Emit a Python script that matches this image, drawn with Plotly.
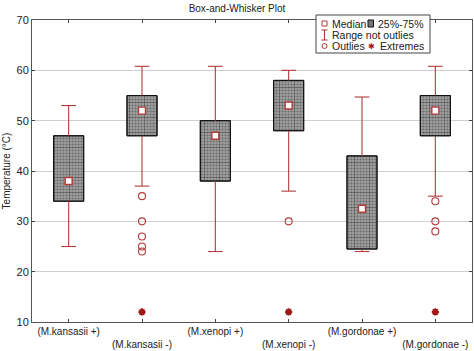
import plotly.graph_objects as go

categories = ["(M.kansasii +)", "(M.kansasii -)", "(M.xenopi +)", "(M.xenopi -)", "(M.gordonae +)", "(M.gordonae -)"]
whisker_low = [25, 37, 24, 36, 24, 35]
q1 = [34, 47, 38, 48, 24.5, 47]
median = [38, 52, 47, 53, 32.5, 52]
q3 = [47, 55, 50, 58, 43, 55]
whisker_high = [53, 60.8, 60.8, 60, 54.7, 60.8]
outliers = [[], [35, 30, 27, 25, 24], [], [30], [], [34, 30, 28]]
extremes = [[], [12], [], [12], [], [12]]

RED = "#b23b3b"
xs = list(range(len(categories)))

fig = go.Figure()

# boxes (25%-75%)
fig.add_trace(go.Bar(
    x=xs, y=[b - a for a, b in zip(q1, q3)], base=q1, width=0.41,
    marker=dict(color="#a0a0a0", line=dict(color="#111", width=1),
                pattern=dict(shape=".", fgcolor="#333", size=3, solidity=0.4)),
    showlegend=False, hoverinfo="skip"))
fig.add_trace(go.Bar(
    x=xs, y=[b - a for a, b in zip(q1, q3)], base=q1, width=0.41,
    marker=dict(color="rgba(0,0,0,0)", line=dict(color="#111", width=1),
                pattern=dict(shape="+", fgcolor="#333", bgcolor="rgba(0,0,0,0)", size=15, solidity=0.08, fillmode="overlay")),
    showlegend=False, hoverinfo="skip"))

# whiskers
wx, wy = [], []
cap = 0.1
for i in xs:
    wx += [i, i, None, i - cap, i + cap, None, i, i, None, i - cap, i + cap, None]
    wy += [q3[i], whisker_high[i], None, whisker_high[i], whisker_high[i], None,
           q1[i], whisker_low[i], None, whisker_low[i], whisker_low[i], None]
fig.add_trace(go.Scatter(x=wx, y=wy, mode="lines", line=dict(color=RED, width=1.1),
                         showlegend=False, hoverinfo="skip"))

# medians
fig.add_trace(go.Scatter(x=xs, y=median, mode="markers",
                         marker=dict(symbol="square", size=7, color="white", line=dict(color=RED, width=1.4)),
                         showlegend=False))

# outliers
ox, oy = [], []
for i, vals in enumerate(outliers):
    for v in vals:
        ox.append(i); oy.append(v)
fig.add_trace(go.Scatter(x=ox, y=oy, mode="markers",
                         marker=dict(symbol="circle-open", size=7, color=RED, line=dict(width=1.1)),
                         showlegend=False))

# extremes
ex, ey = [], []
for i, vals in enumerate(extremes):
    for v in vals:
        ex.append(i); ey.append(v)
fig.add_trace(go.Scatter(x=ex, y=ey, mode="markers",
                         marker=dict(symbol="asterisk-open", size=6, color="#a01818", line=dict(width=2, color="#a01818")),
                         showlegend=False))

ticktext = [c if i % 2 == 0 else "<br>" + c for i, c in enumerate(categories)]

fig.update_layout(
    width=474, height=351, margin=dict(l=32, r=2, t=20, b=29),
    paper_bgcolor="white", plot_bgcolor="white", barmode="overlay",
    font=dict(family="Liberation Sans, Arial", color="#222", size=10),
    title=dict(text="Box-and-Whisker Plot", x=0.5, xanchor="center", y=0.985, yanchor="top",
               font=dict(size=10, color="#222")),
)
fig.update_xaxes(range=[-0.5, 5.5], tickvals=xs, ticktext=ticktext, showgrid=False,
                 ticks="inside", ticklen=3, tickcolor="#444", mirror="ticks", showline=True,
                 linecolor="#555", linewidth=1, tickfont=dict(size=10), zeroline=False,
                 ticklabelstandoff=0, automargin=False)
fig.update_yaxes(range=[10, 70], dtick=10, showgrid=True, gridcolor="#cfcfcf", gridwidth=1,
                 ticks="inside", ticklen=3, tickcolor="#444", mirror="ticks", showline=True,
                 linecolor="#555", linewidth=1, tickfont=dict(size=11), zeroline=False,
                 automargin=False,
                 title=dict(text="Temperature (°C)", font=dict(size=10), standoff=4))

# custom legend in paper coordinates
L, T, W, H = 32, 20, 440, 302
def px(x):
    return (x - L) / W
def py(y):
    return (T + H - y) / H

shapes = [
    dict(type="rect", xref="paper", yref="paper", x0=px(316), x1=px(430), y0=py(15), y1=py(53),
         fillcolor="white", line=dict(color="#444", width=1), layer="above"),
    dict(type="rect", xref="paper", yref="paper", x0=px(322), x1=px(327), y0=py(21), y1=py(26),
         fillcolor="white", line=dict(color=RED, width=1), layer="above"),
    dict(type="rect", xref="paper", yref="paper", x0=px(368), x1=px(373.5), y0=py(20), y1=py(27),
         fillcolor="#777", line=dict(color="#111", width=1), layer="above"),
    dict(type="line", xref="paper", yref="paper", x0=px(324.5), x1=px(324.5), y0=py(30), y1=py(40),
         line=dict(color=RED, width=1.1), layer="above"),
    dict(type="line", xref="paper", yref="paper", x0=px(321.5), x1=px(327.5), y0=py(30), y1=py(30),
         line=dict(color=RED, width=1.1), layer="above"),
    dict(type="line", xref="paper", yref="paper", x0=px(321.5), x1=px(327.5), y0=py(40), y1=py(40),
         line=dict(color=RED, width=1.1), layer="above"),
    dict(type="circle", xref="paper", yref="paper", x0=px(322), x1=px(327), y0=py(43.5), y1=py(48.5),
         line=dict(color=RED, width=1), layer="above"),
]
fig.update_layout(shapes=shapes)
legend_texts = [
    ("Median", 330, 23.5), ("25%-75%", 376, 23.5), ("Range not outlies", 330, 35),
    ("Outlies", 330, 46.5), ("Extremes", 378, 46.5),
]
for t, x, y in legend_texts:
    fig.add_annotation(text=t, xref="paper", yref="paper", x=px(x), y=py(y), xanchor="left",
                       yanchor="middle", showarrow=False, font=dict(size=10.5, color="#222"))
fig.add_annotation(text="✱", xref="paper", yref="paper", x=px(371), y=py(46.5), xanchor="center",
                   yanchor="middle", showarrow=False, font=dict(size=8, color="#a01818"))

fig.write_html("out.html")
